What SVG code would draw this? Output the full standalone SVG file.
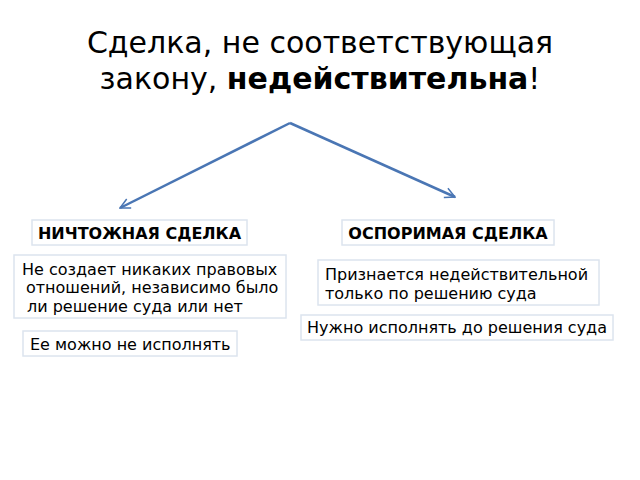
<svg xmlns="http://www.w3.org/2000/svg" width="640" height="480" viewBox="0 0 640 480">
<style>
.title{font-family:"DejaVu Sans","Noto Sans",sans-serif;font-size:30px;fill:#000;text-anchor:middle}
.box{fill:#fff;stroke:#dce4ee;stroke-width:1.5}
.t{font-family:"DejaVu Sans","Noto Sans",sans-serif;font-size:16px;fill:#000}
.h{font-weight:bold}
.conn{fill:none;stroke:#4a76b4;stroke-width:2.5}
</style>
<defs>
<marker id="arr" viewBox="0 0 10 10" refX="9" refY="5" markerWidth="5" markerHeight="5" orient="auto" markerUnits="strokeWidth">
<path d="M1,1 L9,5 L1,9" fill="none" stroke="#4a76b4" stroke-width="1.2"/>
</marker>
</defs>
<rect width="640" height="480" fill="#fff"/>
<g id="title">
<text class="title" x="320" y="53">Сделка, не соответствующая</text>
<text class="title" x="320" y="89">закону, <tspan font-weight="bold">недействительна</tspan>!</text>
</g>
<g id="connectors">
<path class="conn" d="M290,123 L120,208" marker-end="url(#arr)"/>
<path class="conn" d="M290,123 L455,197" stroke-width="2" marker-end="url(#arr)"/>
</g>
<g id="nichtozhnaya">
<rect class="box" x="32" y="220" width="215" height="25"/>
<text class="t h" x="139.5" y="239" text-anchor="middle">НИЧТОЖНАЯ СДЕЛКА</text>
</g>
<g id="osporimaya">
<rect class="box" x="342" y="220" width="212" height="25"/>
<text class="t h" x="448" y="239" text-anchor="middle">ОСПОРИМАЯ СДЕЛКА</text>
</g>
<g id="ne-sozdaet">
<rect class="box" x="14" y="255" width="272" height="63"/>
<text class="t" x="22" y="275">Не создает никаких правовых</text>
<text class="t" x="26" y="293">отношений, независимо было</text>
<text class="t" x="27" y="312">ли решение суда или нет</text>
</g>
<g id="mozhno-ne">
<rect class="box" x="23" y="331" width="214" height="25"/>
<text class="t" x="30" y="350">Ее можно не исполнять</text>
</g>
<g id="priznaetsya">
<rect class="box" x="318" y="260" width="281" height="45"/>
<text class="t" x="325" y="280">Признается недействительной</text>
<text class="t" x="325" y="299">только по решению суда</text>
</g>
<g id="nuzhno">
<rect class="box" x="301" y="315" width="312" height="25"/>
<text class="t" x="307" y="333">Нужно исполнять до решения суда</text>
</g>
</svg>
